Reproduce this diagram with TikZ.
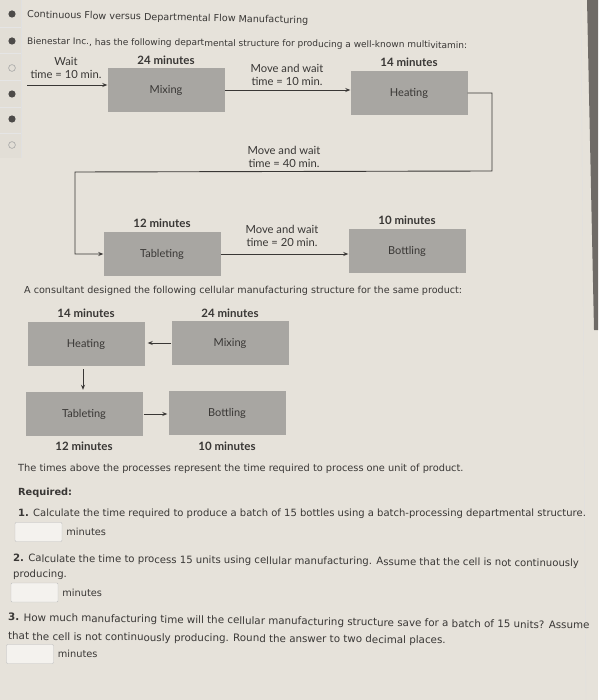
\documentclass[tikz,border=0pt]{standalone}
\usepackage{fontspec}
\setmainfont{DejaVu Sans}
\newfontfamily\figfont{Lato}
\usetikzlibrary{arrows.meta, positioning, calc}
\definecolor{paper}{HTML}{E6E2DA}
\definecolor{strip}{HTML}{E2DED6}
\definecolor{boxgrey}{HTML}{A8A6A2}
\definecolor{ink}{HTML}{393735}
\definecolor{bezel}{HTML}{6F6B67}

\tikzset{
  process/.style={fill=boxgrey, minimum width=117pt, minimum height=44pt, inner sep=0pt,
    text=ink, font=\figfont\fontsize{11}{13}\selectfont},
  minutes/.style={text=ink, inner sep=0pt, font=\figfont\bfseries\fontsize{11.5}{13}\selectfont},
  waitlabel/.style={text=ink, align=center, inner sep=0pt, font=\figfont\fontsize{11.2}{13.5}\selectfont},
  flow/.style={draw=ink, line width=0.9pt, -{Stealth[length=5pt,width=4pt]}},
  para/.style={anchor=west, text=ink, inner sep=0pt, font=\fontsize{9.8}{11}\selectfont},
  answerbox/.style={draw=black!25, fill=paper!45!white, rounded corners=1pt,
    minimum width=47pt, minimum height=19pt, inner sep=0pt},
}

\begin{document}
\begin{tikzpicture}[x=1pt, y=-1pt]
  % page and screen edge
  \fill[paper] (0,0) rectangle (598,700);
  \useasboundingbox (0,0) rectangle (598,700);
  \fill[strip] (0,0) rectangle (21,158);
  \draw[black!12] (21,0) -- (21,158);
  \foreach \y in {27,53,80,107,133}
    \draw[black!10] (0,\y) -- (21,\y);
  \foreach \y in {14,41,94,119}
    \fill[ink!90] (12,\y) circle (3.6pt);
  \foreach \y in {68,145}
    \draw[black!35, line width=0.6pt] (12,\y) circle (3.4pt);
  \draw[black!12] (581,0) -- (586,700);
  \fill[bezel] (587,0) -- (598,0) -- (598,330) -- (594,330) -- cycle;

  % heading
  \node[para, font=\fontsize{9.6}{11}\selectfont, rotate=-1.2] (title) at (27,15)
    {Continuous Flow versus Departmental Flow Manufacturing};
  \node[para, font=\fontsize{9}{11}\selectfont, rotate=-0.5] (intro) at (27,42)
    {Bienestar Inc., has the following departmental structure for producing a well-known multivitamin:};

  % departmental layout
  \node[process] (mixA) at (166,90) {Mixing};
  \node[process] (heatA) at (409,93) {Heating};
  \node[process] (tabA) at (162,254) {Tableting};
  \node[process] (botA) at (407,251) {Bottling};
  \node[minutes, above=3pt of mixA] (mixAtime) {24 minutes};
  \node[minutes, above=4pt of heatA] (heatAtime) {14 minutes};
  \node[minutes, above=4pt of tabA] (tabAtime) {12 minutes};
  \node[minutes, above=4pt of botA] (botAtime) {10 minutes};

  \node[waitlabel] (waitIn) at (66,68) {Wait\\time = 10 min.};
  \node[waitlabel] (waitMH) at (287,75) {Move and wait\\time = 10 min.};
  \node[waitlabel] (waitHT) at (284,157) {Move and wait\\time = 40 min.};
  \node[waitlabel] (waitTB) at (282,236) {Move and wait\\time = 20 min.};

  \coordinate (inStart) at (27,85);
  \coordinate (turnR) at (492,171);
  \coordinate (turnL) at (75,172);
  \draw[flow] (inStart) -- (mixA.west |- inStart);
  \draw[flow] (mixA.east) -- (heatA.west |- mixA.east);
  \draw[flow] (heatA.east) -- (turnR |- heatA.east) -- (turnR) -- (turnL)
    -- (turnL |- tabA.west) -- (tabA.west);
  \draw[flow] (tabA.east) -- (botA.west |- tabA.east);

  % cellular layout
  \node[para, font=\fontsize{9.6}{11}\selectfont] (consult) at (24,291)
    {A consultant designed the following cellular manufacturing structure for the same product:};
  \node[process] (heatB) at (86,344) {Heating};
  \node[process] (mixB) at (230,343) {Mixing};
  \node[process] (tabB) at (84,414) {Tableting};
  \node[process] (botB) at (227,413) {Bottling};
  \node[minutes, above=4pt of heatB] (heatBtime) {14 minutes};
  \node[minutes, above=3pt of mixB] (mixBtime) {24 minutes};
  \node[minutes, below=6pt of tabB] (tabBtime) {12 minutes};
  \node[minutes, below=7pt of botB] (botBtime) {10 minutes};
  \draw[flow, shorten >=3pt] (mixB.west) -- (heatB.east |- mixB.west);
  \draw[flow, shorten <=3pt, shorten >=2pt] (heatB.south -| 83,0) -- (tabB.north -| 83,0);
  \draw[flow, shorten <=1pt, shorten >=1pt] (tabB.east) -- (botB.west |- tabB.east);

  % questions
  \node[para] (note) at (18,469)
    {The times above the processes represent the time required to process one unit of product.};
  \node[para, font=\bfseries\fontsize{9.8}{11}\selectfont] (req) at (18,493) {Required:};
  \node[para, font=\fontsize{10}{11}\selectfont] (q1) at (18,514)
    {\textbf{1.} Calculate the time required to produce a batch of 15 bottles using a batch-processing departmental structure.};
  \node[answerbox] (ans1) at (38.5,532) {};
  \node[para, right=4pt of ans1] (ans1unit) {minutes};
  \node[para, font=\fontsize{10.1}{11}\selectfont, rotate=-0.5] (q2) at (13,559)
    {\textbf{2.} Calculate the time to process 15 units using cellular manufacturing. Assume that the cell is not continuously};
  \node[para, font=\fontsize{10.1}{11}\selectfont] (q2b) at (13,575) {producing.};
  \node[answerbox] (ans2) at (34.5,592.5) {};
  \node[para, right=4pt of ans2] (ans2unit) {minutes};
  \node[para, font=\fontsize{10.3}{11}\selectfont, rotate=-0.8] (q3) at (8,618)
    {\textbf{3.} How much manufacturing time will the cellular manufacturing structure save for a batch of 15 units? Assume};
  \node[para, font=\fontsize{10.3}{11}\selectfont, rotate=-0.5] (q3b) at (8,637)
    {that the cell is not continuously producing. Round the answer to two decimal places.};
  \node[answerbox] (ans3) at (30,654) {};
  \node[para, right=4pt of ans3] (ans3unit) {minutes};
\end{tikzpicture}
\end{document}
